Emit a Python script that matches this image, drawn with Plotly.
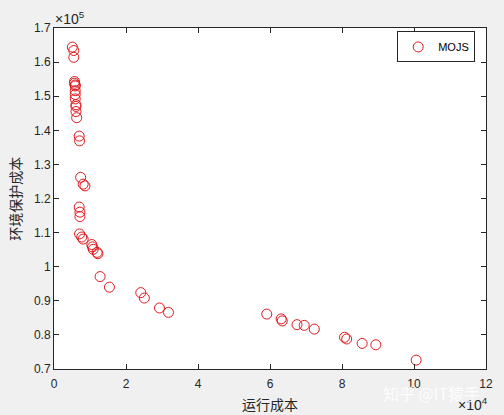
import plotly.graph_objs as go

# 运行成本 (x) 与 环境保护成本 (y)
run_cost = [5100, 5500, 5500, 5700, 5700, 5900, 5900, 5900, 5900, 5900,
            6100, 6100, 6100, 6300, 7000, 7100, 7400, 8100, 8600,
            7000, 7200, 7200, 7100, 7700, 8100, 10500, 10700, 10900, 12000, 12200,
            12800, 15400, 24100, 25100, 29300, 31800,
            59100, 63100, 63400, 67500, 69500, 72300, 80700, 81300, 85600, 89400, 100600]
env_cost = [164400, 163400, 161400, 154300, 153800, 153300, 153000, 151600, 150500, 149200,
            147500, 147000, 145500, 143700, 138300, 136900, 126200, 124200, 123700,
            117500, 116000, 114700, 109600, 108700, 108100, 106500, 105800, 105100, 104200, 103800,
            97100, 94000, 92400, 90800, 87900, 86600,
            86100, 84700, 84100, 83000, 82800, 81700, 79300, 78800, 77500, 77100, 72600]

x_ticks = [0, 20000, 40000, 60000, 80000, 100000, 120000]
x_labels = ['0', '2', '4', '6', '8', '10', '12']
y_ticks = [70000, 80000, 90000, 100000, 110000, 120000, 130000, 140000, 150000, 160000, 170000]
y_labels = ['0.7', '0.8', '0.9', '1', '1.1', '1.2', '1.3', '1.4', '1.5', '1.6', '1.7']

axcol = '#262626'
font_main = 'Liberation Sans, Arial, sans-serif'
font_cn = 'Noto Sans CJK SC'

trace = go.Scatter(x=run_cost, y=env_cost, mode='markers', name='MOJS',
                   marker=dict(symbol='circle-open', size=10, color='#e0191e',
                               line=dict(width=1, color='#e0191e')))

axis_common = dict(showgrid=False, zeroline=False, showline=True, linecolor=axcol, linewidth=1,
                   mirror='ticks', ticks='inside', ticklen=5, tickcolor=axcol,
                   tickfont=dict(family=font_main, size=12, color=axcol))

layout = go.Layout(
    width=504, height=415,
    paper_bgcolor='#f0f0f0', plot_bgcolor='white',
    margin=dict(l=54, r=18, t=28, b=46),
    xaxis=dict(range=[0, 120000], tickvals=x_ticks, ticktext=x_labels,
               ticklabelstandoff=4, **axis_common),
    yaxis=dict(range=[70000, 170000], tickvals=y_ticks, ticktext=y_labels, **axis_common),
    showlegend=True,
    legend=dict(x=0.975, y=0.99, xanchor='right', yanchor='top', bgcolor='white',
                bordercolor=axcol, borderwidth=1,
                font=dict(family=font_main, size=11, color='black'),
                itemwidth=30, tracegroupgap=0),
    annotations=[
        dict(text='运行成本', x=0.5, y=-0.068, xref='paper', yref='paper', showarrow=False,
             xanchor='center', yanchor='top', font=dict(family=font_cn, size=14, color=axcol)),
        dict(text='环境保护成本', x=-0.092, y=0.5, xref='paper', yref='paper', showarrow=False,
             textangle=-90, xanchor='center', yanchor='middle',
             font=dict(family=font_cn, size=14, color=axcol)),
        dict(text='×10<sup>5</sup>', x=-0.002, y=1.0, xref='paper', yref='paper', showarrow=False,
             xanchor='left', yanchor='bottom', yshift=-1,
             font=dict(family=font_main, size=14, color=axcol)),
        dict(text='×10<sup>4</sup>', x=1.01, y=-0.07, xref='paper', yref='paper', showarrow=False,
             xanchor='right', yanchor='top',
             font=dict(family=font_main, size=14, color=axcol)),
        dict(text='知乎 @IT猿手', x=0.99, y=-0.03, xref='paper', yref='paper', showarrow=False,
             xanchor='right', yanchor='top',
             font=dict(family=font_cn, size=16, color='rgba(255,255,255,0.9)')),
    ],
)

fig = go.Figure(data=[trace], layout=layout)
# drop the page's default body margin so the 504x415 figure sits at the window's corner
fig.write_html('out.html', config={'displayModeBar': False},
               post_script="document.body.style.margin='0px';")
